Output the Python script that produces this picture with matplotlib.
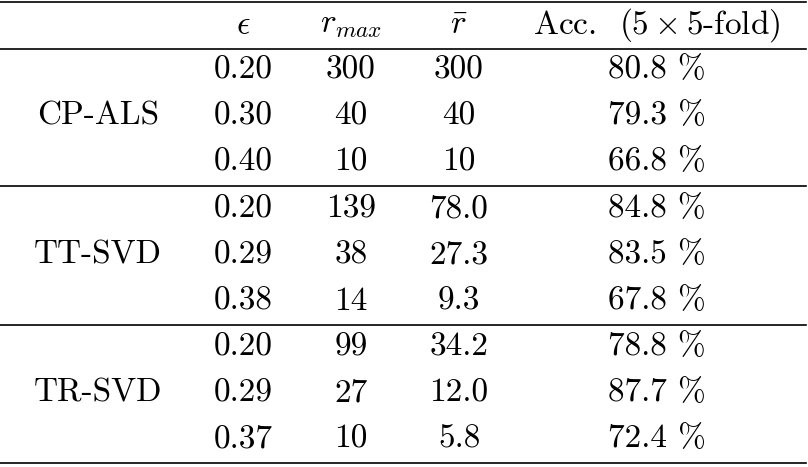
import matplotlib
matplotlib.use('Agg')
import matplotlib.pyplot as plt

plt.rcParams['font.family'] = 'cmr10'
plt.rcParams['mathtext.fontset'] = 'cm'
plt.rcParams['axes.unicode_minus'] = False

methods = ['CP-ALS', 'TT-SVD', 'TR-SVD']
eps = [['0.20', '0.30', '0.40'], ['0.20', '0.29', '0.38'], ['0.20', '0.29', '0.37']]
r_max = [['300', '40', '10'], ['139', '38', '14'], ['99', '27', '10']]
r_bar = [['300', '40', '10'], ['78.0', '27.3', '9.3'], ['34.2', '12.0', '5.8']]
acc = [['80.8 %', '79.3 %', '66.8 %'], ['84.8 %', '83.5 %', '67.8 %'], ['78.8 %', '87.7 %', '72.4 %']]
headers = [r'$\epsilon$', r'$r_{max}$', r'$\bar{r}$', r'Acc.  $(5\times 5$-fold)']

W, H = 808, 467
fig = plt.figure(figsize=(W / 100, H / 100), dpi=100)
ax = fig.add_axes([0, 0, 1, 1])
ax.set_xlim(0, W)
ax.set_ylim(H, 0)
ax.axis('off')

col_x = [243, 351, 459, 657]
fs = 24

def hline(y):
    ax.plot([0, 806], [y, y], color='black', lw=1.2)

hline(2)
hline(49)
for x, h in zip(col_x, headers):
    ax.text(x, 25, h, ha='center', va='center', fontsize=fs)

block_top = [70, 209, 347]
for b, m in enumerate(methods):
    ys = [block_top[b] + 46 * i for i in range(3)]
    ax.text(98, ys[1], m, ha='center', va='center', fontsize=fs)
    for i, y in enumerate(ys):
        for x, v in zip(col_x, [eps[b][i], r_max[b][i], r_bar[b][i], acc[b][i]]):
            ax.text(x, y, v, ha='center', va='center', fontsize=fs)
    hline(block_top[b] + 46 * 2 + 24 if b < 2 else 463)

fig.savefig('out.png', dpi=100)
